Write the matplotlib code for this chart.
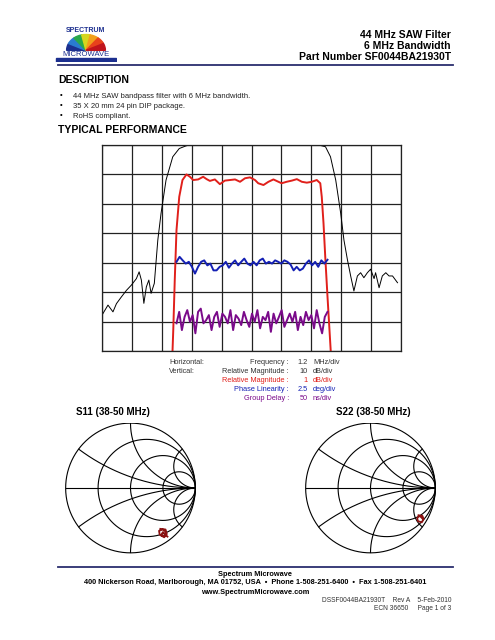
import numpy as np
import matplotlib
matplotlib.use("Agg")
import matplotlib.pyplot as plt
from matplotlib.lines import Line2D
from matplotlib.patches import Wedge

plt.rcParams['font.family'] = ['Liberation Sans', 'DejaVu Sans']

W, H = 495, 640

# Frequency axis: 38 .. 50 MHz, 1.2 MHz/div ; levels in grid divisions (0 bottom .. 7 top)
black_f = [38.0, 38.24, 38.44, 38.58, 38.78, 38.98, 39.18, 39.38, 39.49, 39.58, 39.68, 39.78,
           39.88, 39.97, 40.1, 40.24, 40.37, 40.57, 40.84, 41.1, 41.37, 41.5,
           46.7, 46.97, 47.17, 47.38, 47.58, 47.71, 47.85, 47.98, 48.11, 48.25, 48.38,
           48.51, 48.65, 48.78, 48.92, 48.98, 49.12, 49.25, 49.39, 49.52, 49.66, 49.86]
black_v = [1.22, 1.56, 1.33, 1.61, 1.84, 2.06, 2.24, 2.46, 2.69, 2.41, 1.62, 2.18,
           2.41, 1.96, 2.3, 3.77, 4.68, 5.81, 6.6, 6.88, 6.97, 7.0,
           7.0, 6.94, 6.6, 5.81, 4.68, 3.77, 3.1, 2.55, 2.04, 2.55, 2.66, 2.49, 2.66, 2.78,
           2.46, 2.66, 2.15, 2.55, 2.66, 2.55, 2.55, 2.32]

red_f = [40.83, 40.86, 40.92, 40.99, 41.10, 41.23, 41.39, 41.53, 41.66, 41.86, 42.06, 42.20,
         42.33, 42.53, 42.73, 42.93, 43.14, 43.34, 43.54, 43.74, 43.94, 44.14, 44.27, 44.48,
         44.68, 44.88, 45.08, 45.21, 45.41, 45.62, 45.82, 46.02, 46.22, 46.42, 46.62, 46.76,
         46.82, 46.89, 46.96, 47.05, 47.13, 47.18]
red_v = [0.0, 0.71, 2.41, 4.11, 5.24, 5.81, 6.0, 5.92, 5.81, 5.83, 5.92, 5.84, 5.78, 5.83,
         5.67, 5.79, 5.81, 5.83, 5.75, 5.87, 5.9, 5.81, 5.70, 5.64, 5.75, 5.83, 5.75, 5.70,
         5.75, 5.79, 5.84, 5.75, 5.72, 5.75, 5.81, 5.70, 5.24, 4.34, 3.2, 1.85, 0.71, 0.0]

blue_v = [3.03, 3.2, 3.08, 2.97, 3.03, 2.86, 2.63, 2.86, 3.03, 3.08, 2.91, 2.97, 2.74,
          2.74, 2.86, 2.91, 3.03, 2.83, 2.97, 3.08, 2.91, 3.03, 3.14, 2.97, 2.91, 3.03, 2.91,
          3.08, 3.14, 2.97, 3.03, 2.97, 3.08, 3.03, 2.97, 3.08, 3.03, 2.94, 2.74, 2.86, 2.74,
          2.8, 2.97, 3.08, 2.91, 3.03, 2.86, 3.08, 2.97, 3.1]
blue_f = np.linspace(40.99, 47.05, len(blue_v))

purple_v = [0.94, 1.33, 0.71, 1.16, 1.39, 0.99, 1.22, 0.6, 1.33, 1.44, 0.94, 1.05, 1.22,
            0.71, 1.16, 1.33, 0.82, 1.27, 1.16, 0.94, 1.39, 0.71, 1.22, 1.1, 0.88, 1.33,
            1.05, 0.82, 1.27, 0.99, 1.39, 0.77, 1.16, 1.05, 1.33, 0.65, 1.27, 0.94, 1.16,
            1.39, 0.82, 1.05, 1.27, 0.99, 1.33, 0.71, 1.16, 0.88, 1.33, 1.05, 1.22, 0.77,
            1.39, 0.94, 0.6, 1.16, 1.33]
purple_f = np.linspace(40.99, 47.05, len(purple_v))

# Smith chart traces (reflection coefficient)
s11_re = [0.46, 0.54, 0.56, 0.52, 0.45, 0.44, 0.5, 0.55, 0.53, 0.47, 0.50, 0.57]
s11_im = [-0.63, -0.64, -0.71, -0.76, -0.72, -0.66, -0.64, -0.68, -0.74, -0.73, -0.68, -0.75]
s22_re = [0.74, 0.80, 0.82, 0.79, 0.73, 0.72, 0.76, 0.80]
s22_im = [-0.42, -0.43, -0.48, -0.53, -0.51, -0.46, -0.43, -0.47]

smith_r = [1 / 3, 1, 3]
smith_x = [1 / 3, 1, 3]

fig = plt.figure(figsize=(W / 100, H / 100), dpi=100)


def fx(x):
    return x / W


def fy(y):
    return 1 - y / H


def text(x, y, s, **kw):
    kw.setdefault('va', 'center')
    fig.text(fx(x), fy(y), s, **kw)


def hrule(y, x0=58, x1=453):
    fig.add_artist(Line2D([fx(x0), fx(x1)], [fy(y), fy(y)], color='#2b2e6e', lw=1.3))


# logo
lax = fig.add_axes([fx(55), fy(62), fx(62), 1 - fy(37)])
lax.set_xlim(-1.2, 1.2)
lax.set_ylim(-0.55, 1.2)
lax.axis('off')
cols = ['#1c2f8f', '#2a7bd0', '#2aa84a', '#d6d61e', '#f2a01b', '#e8431b', '#c0141c']
for i, c in enumerate(cols):
    lax.add_patch(Wedge((0, 0), 0.75, 180 - (i + 1) * 180 / 7, 180 - i * 180 / 7, color=c))
lax.text(0, 0.95, 'SPECTRUM', ha='center', va='center', fontsize=5, color='#1c2f8f', fontweight='bold')
lax.text(0, -0.2, 'MICROWAVE', ha='center', va='center', fontsize=5.5, color='#1c2f8f')
lax.add_patch(plt.Rectangle((-1.15, -0.55), 2.3, 0.18, color='#1c2f8f'))

text(451, 35, '44 MHz SAW Filter', ha='right', fontsize=7.5, fontweight='bold')
text(451, 46, '6 MHz Bandwidth', ha='right', fontsize=7.5, fontweight='bold')
text(451, 57, 'Part Number SF0044BA21930T', ha='right', fontsize=7.5, fontweight='bold')
hrule(65)

text(58, 80, 'DESCRIPTION', fontsize=7.5, fontweight='bold')
bullets = ['44 MHz SAW bandpass filter with 6 MHz bandwidth.',
           '35 X 20 mm 24 pin DIP package.',
           'RoHS compliant.']
for i, b in enumerate(bullets):
    text(60, 96 + 10 * i, '\u2022', fontsize=5.5)
    text(73, 96 + 10 * i, b, fontsize=5.5, color='#222222')
text(58, 130, 'TYPICAL PERFORMANCE', fontsize=7.5, fontweight='bold')

# main response plot
ax = fig.add_axes([fx(102), fy(351), fx(401) - fx(102), fy(145) - fy(351)])
ax.set_xlim(38, 50)
ax.set_ylim(0, 7)
ax.set_xticks(np.arange(38, 50.01, 1.2))
ax.set_yticks(np.arange(0, 8))
ax.grid(True, color='#222222', lw=0.9)
ax.tick_params(length=0, labelbottom=False, labelleft=False)
for sp in ax.spines.values():
    sp.set_color('#222222')
    sp.set_linewidth(0.9)
ax.plot(black_f, black_v, color='black', lw=0.7)
ax.plot(red_f, red_v, color='#e0201b', lw=1.4)
ax.plot(blue_f, blue_v, color='#1420b4', lw=1.4)
ax.plot(purple_f, purple_v, color='#7a0a8a', lw=1.4)

rows = [('Horizontal:', 'Frequency :', '1.2', 'MHz/div', '#333333'),
        ('Vertical:', 'Relative Magnitude :', '10', 'dB/div', '#333333'),
        ('', 'Relative Magnitude :', '1', 'dB/div', '#e0201b'),
        ('', 'Phase Linearity :', '2.5', 'deg/div', '#1420b4'),
        ('', 'Group Delay :', '50', 'ns/div', '#7a0a8a')]
for i, (a, b, c, d, col) in enumerate(rows):
    y = 363 + 8.8 * i
    text(169, y, a, fontsize=5.3, color='#333333')
    text(289, y, b, fontsize=5.3, color=col, ha='right')
    text(308, y, c, fontsize=5.3, color=col, ha='right')
    text(313, y, d, fontsize=5.3, color=col)

text(76, 412, 'S11 (38-50 MHz)', fontsize=7, fontweight='bold')
text(411, 412, 'S22 (38-50 MHz)', fontsize=7, fontweight='bold', ha='right')


def smith(cx, re, im):
    r = 65.5
    sax = fig.add_axes([fx(cx - r), fy(488 + r), 2 * r / W, 2 * r / H])
    sax.set_xlim(-1.01, 1.01)
    sax.set_ylim(-1.01, 1.01)
    sax.axis('off')
    t = np.linspace(0, 2 * np.pi, 600)
    sax.plot(np.cos(t), np.sin(t), color='black', lw=0.8)
    sax.plot([-1, 1], [0, 0], color='black', lw=0.8)
    for rr in smith_r:
        c, rad = rr / (1 + rr), 1 / (1 + rr)
        sax.plot(c + rad * np.cos(t), rad * np.sin(t), color='black', lw=0.8)
    for xx in smith_x:
        for sgn in [1, -1]:
            px = 1 + (1 / xx) * np.cos(t)
            py = sgn / xx + (1 / xx) * np.sin(t)
            mask = px ** 2 + py ** 2 <= 1.0001
            sax.plot(np.where(mask, px, np.nan), py, color='black', lw=0.8)
    sax.plot(re, im, color='#8b1010', lw=1.3)


smith(130.5, s11_re, s11_im)
smith(370.5, s22_re, s22_im)

hrule(567)
text(255, 574, 'Spectrum Microwave', fontsize=5.3, fontweight='bold', ha='center')
text(255, 583, '400 Nickerson Road, Marlborough, MA 01752, USA  \u2022  Phone 1-508-251-6400  \u2022  Fax 1-508-251-6401',
     fontsize=5.3, fontweight='bold', ha='center')
text(255, 592, 'www.SpectrumMicrowave.com', fontsize=5.3, fontweight='bold', ha='center')
text(451, 600, 'DSSF0044BA21930T    Rev A    5-Feb-2010', fontsize=4.8, ha='right', color='#333333')
text(451, 609, 'ECN 36650     Page 1 of 3', fontsize=4.8, ha='right', color='#333333')

fig.savefig('out.png', dpi=100)
